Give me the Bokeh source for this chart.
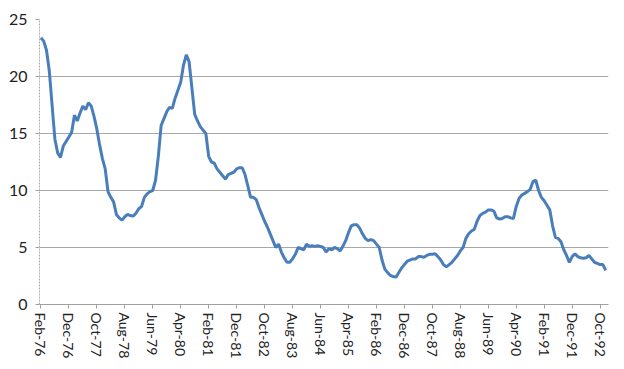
from bokeh.plotting import figure
from bokeh.models import FixedTicker, Range1d, ColumnDataSource
from bokeh.embed import file_html
from bokeh.resources import INLINE

# Monthly values, Feb-76 .. Dec-92 (month index 0 = Feb-76)
values = [
    23.4, 23.1, 22.3, 20.5, 17.5, 14.5, 13.3, 12.9, 13.9, 14.3,
    14.7, 15.1, 16.6, 16.1, 16.8, 17.4, 17.1, 17.7, 17.4, 16.5,
    15.4, 14.0, 12.8, 11.9, 9.9, 9.4, 9.0, 7.9, 7.6, 7.4,
    7.7, 7.9, 7.8, 7.75, 8.0, 8.4, 8.6, 9.4, 9.7, 9.9,
    10.0, 10.9, 13.0, 15.7, 16.3, 16.9, 17.3, 17.2, 18.1, 18.8,
    19.5, 21.0, 21.9, 21.3, 19.0, 16.7, 16.1, 15.6, 15.3, 15.0,
    13.0, 12.5, 12.4, 11.9, 11.6, 11.3, 11.0, 11.4, 11.5, 11.6,
    11.9, 12.0, 12.0, 11.4, 10.4, 9.4, 9.4, 9.2, 8.5, 7.9,
    7.3, 6.8, 6.2, 5.6, 5.0, 5.3, 4.6, 4.1, 3.7, 3.7,
    4.0, 4.4, 5.0, 4.9, 4.8, 5.3, 5.1, 5.15, 5.1, 5.15,
    5.1, 5.0, 4.6, 4.9, 4.8, 5.0, 4.9, 4.7, 5.1, 5.6,
    6.3, 6.9, 7.0, 7.0, 6.7, 6.2, 5.8, 5.6, 5.7, 5.6,
    5.3, 5.0, 3.9, 3.1, 2.8, 2.55, 2.45, 2.4, 2.8, 3.2,
    3.5, 3.8, 3.9, 4.0, 4.0, 4.2, 4.2, 4.15, 4.3, 4.4,
    4.4, 4.45, 4.2, 3.9, 3.5, 3.3, 3.5, 3.7, 4.0, 4.3,
    4.7, 5.0, 5.8, 6.2, 6.45, 6.6, 7.3, 7.8, 8.0, 8.1,
    8.3, 8.3, 8.2, 7.6, 7.5, 7.55, 7.7, 7.7, 7.6, 7.55,
    8.6, 9.3, 9.6, 9.75, 9.9, 10.1, 10.8, 10.9, 10.0, 9.4,
    9.1, 8.7, 8.3, 6.9, 5.9, 5.8, 5.5, 4.8, 4.3, 3.7,
    4.2, 4.45, 4.2, 4.1, 4.05, 4.1, 4.3, 4.0, 3.7, 3.6,
    3.5, 3.5, 3.0,
]
months = list(range(len(values)))

tick_positions = [0, 10, 20, 30, 40, 50, 60, 70, 80, 90, 100,
                  110, 120, 130, 140, 150, 160, 170, 180, 190, 200]
tick_labels = ["Feb-76", "Dec-76", "Oct-77", "Aug-78", "Jun-79", "Apr-80",
               "Feb-81", "Dec-81", "Oct-82", "Aug-83", "Jun-84", "Apr-85",
               "Feb-86", "Dec-86", "Oct-87", "Aug-88", "Jun-89", "Apr-90",
               "Feb-91", "Dec-91", "Oct-92"]
y_ticks = [0, 5, 10, 15, 20, 25]

src = ColumnDataSource(data=dict(x=months, y=values))

p = figure(width=624, height=369, output_backend="svg", toolbar_location=None,
           x_range=Range1d(-0.5, 203), y_range=Range1d(0, 25),
           min_border_left=39, min_border_right=16, min_border_top=19,
           min_border_bottom=65)
p.outline_line_color = None
p.background_fill_color = "white"
p.border_fill_color = "white"

p.line("x", "y", source=src, line_color="#4a7ebb", line_width=3)

font = "Lato"
# x axis
p.xaxis.ticker = FixedTicker(ticks=tick_positions)
p.xaxis.major_label_overrides = {t: l for t, l in zip(tick_positions, tick_labels)}
p.xaxis.major_label_orientation = "vertical"
p.xaxis.major_label_text_font = font
p.xaxis.major_label_text_font_size = "14px"
p.xaxis.major_label_text_color = "#222222"
p.xaxis.axis_line_color = "#a0a0a0"
p.xaxis.major_tick_line_color = "#a0a0a0"
p.xaxis.major_tick_out = 4
p.xaxis.major_tick_in = 0
p.xaxis.minor_tick_line_color = None
p.xaxis.major_label_standoff = 4

# y axis
p.yaxis.ticker = FixedTicker(ticks=y_ticks)
p.yaxis.major_label_text_font = font
p.yaxis.major_label_text_font_size = "16px"
p.yaxis.major_label_text_color = "#222222"
p.yaxis.axis_line_color = "#b0b0b0"
p.yaxis.axis_line_dash = "2 1"
p.yaxis.major_tick_line_color = "#a0a0a0"
p.yaxis.major_tick_out = 4
p.yaxis.major_tick_in = 0
p.yaxis.minor_tick_line_color = None
p.yaxis.major_label_standoff = 8

p.xgrid.grid_line_color = None
p.ygrid.grid_line_color = "#a8a8a8"
p.ygrid.grid_line_width = 1

open("out.html", "w").write(file_html(p, INLINE))
